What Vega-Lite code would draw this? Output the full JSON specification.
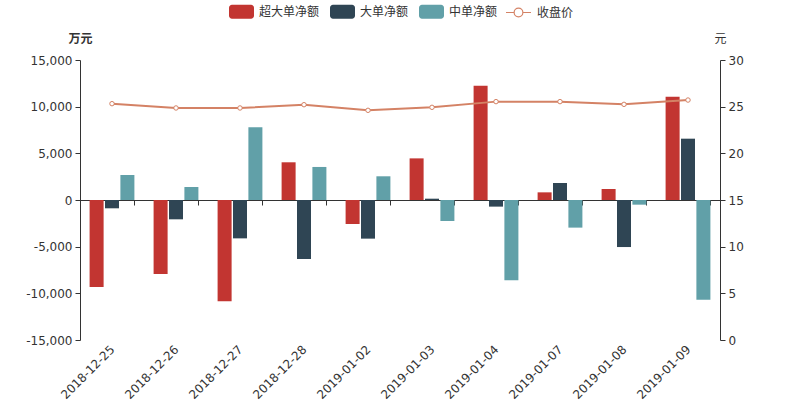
{
  "$schema": "https://vega.github.io/schema/vega-lite/v6.json",
  "autosize": {"type": "none"},
  "width": 640,
  "height": 280,
  "padding": {"left": 80, "top": 60, "right": 80, "bottom": 60},
  "background": "white",
  "config": {
    "view": {"stroke": null},
    "font": "DejaVu Sans",
    "axis": {"labelFont": "DejaVu Sans", "labelFontSize": 12, "labelColor": "#333", "domainColor": "#333", "tickColor": "#333", "grid": false, "titleColor": "#333"},
    "legend": {"labelFont": "Noto Sans CJK SC", "labelFontSize": 12, "labelColor": "#333"}
  },
  "datasets": {
    "bars": [
      {"date": "2018-12-25", "type": "超大单净额", "value": -9320},
      {"date": "2018-12-25", "type": "大单净额", "value": -890},
      {"date": "2018-12-25", "type": "中单净额", "value": 2680},
      {"date": "2018-12-26", "type": "超大单净额", "value": -7930},
      {"date": "2018-12-26", "type": "大单净额", "value": -2070},
      {"date": "2018-12-26", "type": "中单净额", "value": 1390},
      {"date": "2018-12-27", "type": "超大单净额", "value": -10860},
      {"date": "2018-12-27", "type": "大单净额", "value": -4110},
      {"date": "2018-12-27", "type": "中单净额", "value": 7790},
      {"date": "2018-12-28", "type": "超大单净额", "value": 4040},
      {"date": "2018-12-28", "type": "大单净额", "value": -6320},
      {"date": "2018-12-28", "type": "中单净额", "value": 3540},
      {"date": "2019-01-02", "type": "超大单净额", "value": -2570},
      {"date": "2019-01-02", "type": "大单净额", "value": -4140},
      {"date": "2019-01-02", "type": "中单净额", "value": 2540},
      {"date": "2019-01-03", "type": "超大单净额", "value": 4460},
      {"date": "2019-01-03", "type": "大单净额", "value": 140},
      {"date": "2019-01-03", "type": "中单净额", "value": -2250},
      {"date": "2019-01-04", "type": "超大单净额", "value": 12250},
      {"date": "2019-01-04", "type": "大单净额", "value": -710},
      {"date": "2019-01-04", "type": "中单净额", "value": -8610},
      {"date": "2019-01-07", "type": "超大单净额", "value": 820},
      {"date": "2019-01-07", "type": "大单净额", "value": 1820},
      {"date": "2019-01-07", "type": "中单净额", "value": -2960},
      {"date": "2019-01-08", "type": "超大单净额", "value": 1180},
      {"date": "2019-01-08", "type": "大单净额", "value": -5040},
      {"date": "2019-01-08", "type": "中单净额", "value": -500},
      {"date": "2019-01-09", "type": "超大单净额", "value": 11070},
      {"date": "2019-01-09", "type": "大单净额", "value": 6570},
      {"date": "2019-01-09", "type": "中单净额", "value": -10680}
    ],
    "close": [
      {"date": "2018-12-25", "series": "收盘价", "close": 25.32},
      {"date": "2018-12-26", "series": "收盘价", "close": 24.86},
      {"date": "2018-12-27", "series": "收盘价", "close": 24.86},
      {"date": "2018-12-28", "series": "收盘价", "close": 25.21},
      {"date": "2019-01-02", "series": "收盘价", "close": 24.61},
      {"date": "2019-01-03", "series": "收盘价", "close": 24.93},
      {"date": "2019-01-04", "series": "收盘价", "close": 25.54},
      {"date": "2019-01-07", "series": "收盘价", "close": 25.54},
      {"date": "2019-01-08", "series": "收盘价", "close": 25.25},
      {"date": "2019-01-09", "series": "收盘价", "close": 25.71}
    ]
  },
  "encoding": {
    "x": {
      "field": "date",
      "type": "nominal",
      "sort": null,
      "scale": {"paddingInner": 0.3, "paddingOuter": 0.15},
      "axis": {
        "title": null,
        "offset": -140,
        "labelAngle": -45,
        "labelPadding": 142,
        "tickBand": "extent",
        "tickSize": 5,
        "labelAlign": "right",
        "labelBaseline": "middle"
      }
    }
  },
  "layer": [
    {
      "data": {"name": "bars"},
      "mark": {"type": "bar"},
      "encoding": {
        "xOffset": {"field": "type", "type": "nominal", "sort": ["超大单净额", "大单净额", "中单净额"], "scale": {"paddingInner": 0.09, "paddingOuter": 0}},
        "y": {
          "field": "value",
          "type": "quantitative",
          "scale": {"domain": [-15000, 15000], "nice": false, "zero": false},
          "axis": {
            "title": "万元",
            "titleAngle": 0,
            "titleX": 0,
            "titleY": -22,
            "titleAlign": "center",
            "titleBaseline": "middle",
            "titleFont": "Noto Sans CJK SC",
            "titleFontSize": 12,
            "titleFontWeight": "bold",
            "values": [-15000, -10000, -5000, 0, 5000, 10000, 15000],
            "tickSize": 5,
            "labelPadding": 3,
            "labelExpr": "replace(format(datum.value, ','), '\u2212', '-')"
          }
        },
        "color": {
          "field": "type",
          "type": "nominal",
          "sort": ["超大单净额", "大单净额", "中单净额"],
          "scale": {"domain": ["超大单净额", "大单净额", "中单净额"], "range": ["#c23531", "#2f4554", "#61a0a8"]},
          "legend": {
            "title": null,
            "orient": "none",
            "direction": "horizontal",
            "legendX": 149,
            "legendY": -61,
            "symbolType": "M-0.76,-0.56H0.76A0.24,0.24 0 0 1 1,-0.32V0.32A0.24,0.24 0 0 1 0.76,0.56H-0.76A0.24,0.24 0 0 1 -1,0.32V-0.32A0.24,0.24 0 0 1 -0.76,-0.56Z",
            "symbolSize": 625,
            "symbolStrokeWidth": 0,
            "symbolOpacity": 1,
            "labelOffset": 5,
            "columnPadding": 10
          }
        }
      }
    },
    {
      "data": {"name": "close"},
      "mark": {"type": "line", "strokeWidth": 2, "point": {"filled": false, "fill": "white", "size": 20, "strokeWidth": 1, "opacity": 1}},
      "encoding": {
        "y": {
          "field": "close",
          "type": "quantitative",
          "scale": {"domain": [0, 30], "nice": false},
          "axis": {
            "orient": "right",
            "title": "元",
            "titleAngle": 0,
            "titleX": 0,
            "titleY": -22,
            "titleAlign": "center",
            "titleBaseline": "middle",
            "titleFont": "Noto Sans CJK SC",
            "titleFontSize": 12,
            "titleFontWeight": "normal",
            "values": [0, 5, 10, 15, 20, 25, 30],
            "tickSize": 5,
            "labelPadding": 3
          }
        },
        "stroke": {
          "field": "series",
          "type": "nominal",
          "scale": {"domain": ["收盘价"], "range": ["#d48265"]},
          "legend": {
            "title": null,
            "orient": "none",
            "direction": "horizontal",
            "legendX": 425,
            "legendY": -61,
            "symbolType": "M-1,0H-0.35M0.35,0H1M-0.35,0A0.35,0.35 0 1 1 0.35,0A0.35,0.35 0 1 1 -0.35,0Z",
            "symbolSize": 625,
            "symbolStrokeWidth": 1.2,
            "symbolFillColor": "white",
            "symbolOpacity": 1,
            "labelOffset": 5
          }
        }
      }
    }
  ],
  "resolve": {"scale": {"y": "independent"}}
}
